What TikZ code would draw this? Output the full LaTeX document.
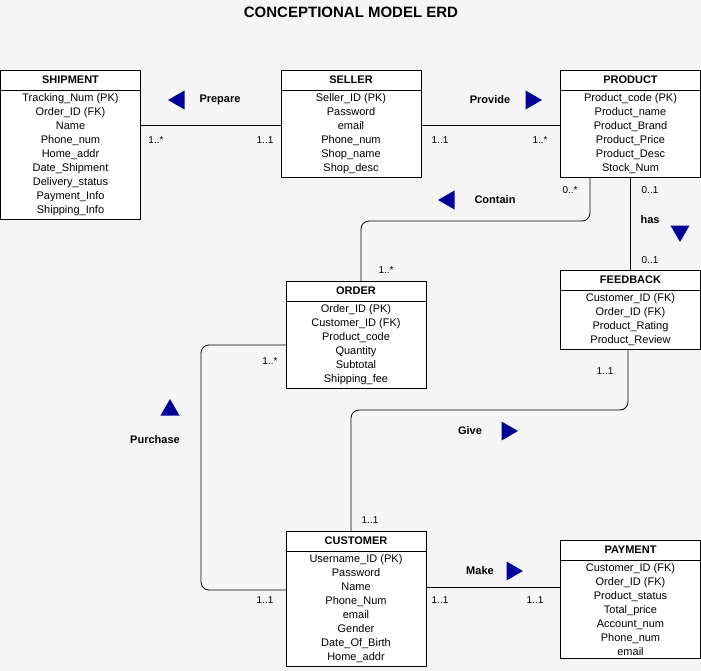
\documentclass[tikz,border=0pt]{standalone}
\usepackage{fontspec}
\setmainfont{Liberation Sans}
\usetikzlibrary{positioning,calc,shapes.geometric}
\definecolor{bgcol}{HTML}{F5F5F5}
\definecolor{tricol}{HTML}{000099}
\tikzset{
    entity/.style={draw, rectangle, minimum width=140pt, minimum height=20pt, inner sep=0pt, fill=white, font=\fontsize{11}{14}\selectfont\bfseries, anchor=north},
    attrs/.style={draw, rectangle, minimum width=140pt, inner xsep=0pt, inner ysep=3pt, fill=white, align=center, font=\fontsize{11}{14}\selectfont, anchor=north},
    link/.style={draw, line width=0.8pt, rounded corners=8pt},
    card/.style={font=\fontsize{10}{11}\selectfont, inner sep=1pt},
    rel/.style={font=\fontsize{11}{12}\selectfont\bfseries, inner sep=1pt},
    tri/.style={regular polygon, regular polygon sides=3, fill=tricol, inner sep=0pt, minimum size=22pt}
}
\begin{document}
\begin{tikzpicture}[x=1pt, y=-1pt]
    \fill[bgcol] (0,0) rectangle (701,671);
    \useasboundingbox (0,0) rectangle (701,671);
    \node[font=\fontsize{15}{16}\selectfont\bfseries] (title) at (351,12) {CONCEPTIONAL MODEL ERD};
    % Entities
    \node[entity] (ship) at (70.5,70) {SHIPMENT};
    \node[attrs] (shipb) at (ship.south) {Tracking\_Num (PK)\\Order\_ID (FK)\\Name\\Phone\_num\\Home\_addr\\Date\_Shipment\\Delivery\_status\\Payment\_Info\\Shipping\_Info};
    \node[entity] (sell) at (351,70) {SELLER};
    \node[attrs] (sellb) at (sell.south) {Seller\_ID (PK)\\Password\\email\\Phone\_num\\Shop\_name\\Shop\_desc};
    \node[entity] (prod) at (630.5,70) {PRODUCT};
    \node[attrs] (prodb) at (prod.south) {Product\_code (PK)\\Product\_name\\Product\_Brand\\Product\_Price\\Product\_Desc\\Stock\_Num};
    \node[entity] (ord) at (356,281) {ORDER};
    \node[attrs] (ordb) at (ord.south) {Order\_ID (PK)\\Customer\_ID (FK)\\Product\_code\\Quantity\\Subtotal\\Shipping\_fee};
    \node[entity] (feed) at (630.5,270) {FEEDBACK};
    \node[attrs] (feedb) at (feed.south) {Customer\_ID (FK)\\Order\_ID (FK)\\Product\_Rating\\Product\_Review};
    \node[entity] (cust) at (356,531) {CUSTOMER};
    \node[attrs] (custb) at (cust.south) {Username\_ID (PK)\\Password\\Name\\Phone\_Num\\email\\Gender\\Date\_Of\_Birth\\Home\_addr};
    \node[entity] (pay) at (630.5,540) {PAYMENT};
    \node[attrs] (payb) at (pay.south) {Customer\_ID (FK)\\Order\_ID (FK)\\Product\_status\\Total\_price\\Account\_num\\Phone\_num\\email};
    % Connectors
    \draw[link] (shipb.east |- 0,125) -- (sellb.west |- 0,125);
    \draw[link] (sellb.east |- 0,125) -- (prodb.west |- 0,125);
    \draw[link] (prodb.south -| 590,0) -- (590,221) -- (361,221) -- (ord.north -| 361,0);
    \draw[link] (prodb.south -| 630,0) -- (feed.north -| 630,0);
    \draw[link] (feedb.south -| 628,0) -- (628,410) -- (351,410) -- (cust.north -| 351,0);
    \draw[link] (ordb.west |- 0,345) -- (201,345) -- (201,590) -- (custb.west |- 0,590);
    \draw[link] (custb.east |- 0,587) -- (payb.west |- 0,587);
    % Cardinalities
    \node[card] (c1) at (156,140) {1..*};
    \node[card] (c2) at (265,140) {1..1};
    \node[card] (c3) at (440,140) {1..1};
    \node[card] (c4) at (540,140) {1..*};
    \node[card] (c5) at (570,190) {0..*};
    \node[card] (c6) at (386,270) {1..*};
    \node[card] (c7) at (650,190) {0..1};
    \node[card] (c8) at (650,260) {0..1};
    \node[card] (c9) at (605,371) {1..1};
    \node[card] (c10) at (370,520) {1..1};
    \node[card] (c11) at (270,361) {1..*};
    \node[card] (c12) at (265,600) {1..1};
    \node[card] (c13) at (440,600) {1..1};
    \node[card] (c14) at (535,600) {1..1};
    % Relationships
    \node[rel] (prep) at (220,100) {Prepare};
    \node[tri, rotate=90] (tprep) at (179,100) {};
    \node[rel] (prov) at (490,100) {Provide};
    \node[tri, rotate=-90] (tprov) at (531,100) {};
    \node[rel] (cont) at (495,200) {Contain};
    \node[tri, rotate=90] (tcont) at (449,200) {};
    \node[rel] (has) at (650,220) {has};
    \node[tri, rotate=180] (thas) at (680,231) {};
    \node[rel] (purc) at (155,440) {Purchase};
    \node[tri] (tpurc) at (170,410) {};
    \node[rel] (give) at (470,431) {Give};
    \node[tri, rotate=-90] (tgive) at (507,431) {};
    \node[rel] (make) at (480,571) {Make};
    \node[tri, rotate=-90] (tmake) at (512,571) {};
\end{tikzpicture}
\end{document}
